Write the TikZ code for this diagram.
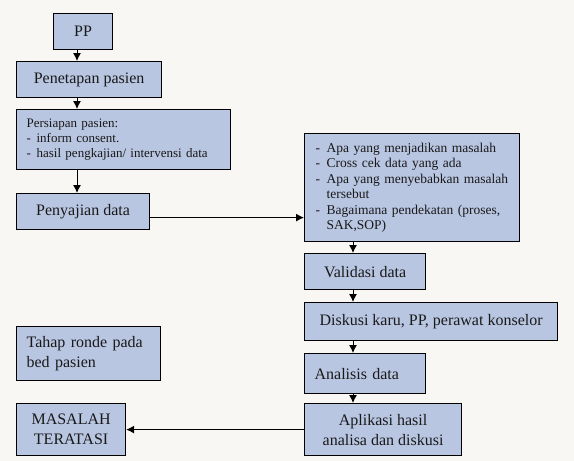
\documentclass[tikz,border=0pt]{standalone}
\usepackage{fontspec}
\setmainfont{Liberation Serif}
\usetikzlibrary{arrows.meta,positioning,calc}
\definecolor{boxblue}{RGB}{185,198,226}
\definecolor{paper}{RGB}{248,247,244}
\tikzstyle{block}=[draw=black, line width=1.2pt, fill=boxblue, anchor=north west, inner sep=0pt, text=black!90, font=\fontsize{16}{20}\selectfont]
\tikzstyle{small}=[font=\fontsize{13.5}{15.5}\selectfont]
\tikzstyle{arrow}=[line width=1pt,-{Latex[length=8pt,width=8pt]}]
\tikzset{sz/.style 2 args={minimum width=#1pt, minimum height=#2pt}}
\newcommand{\dash}[1][10pt]{\makebox[#1][l]{-}}

\begin{document}
\begin{tikzpicture}[x=1pt,y=-1pt]
\fill[paper] (0,0) rectangle (574,461);
\useasboundingbox (0,0) rectangle (574,461);
% left column
\node (pp) [block, sz={59}{36}] at (53,13) {PP};
\node (pen) [block, sz={145}{36}] at (16,61) {Penetapan pasien};
\node (pers) [block, small, inner xsep=10pt, text width=194pt, minimum height=60pt, align=left, font=\fontsize{13}{15}\selectfont] at (16,109) {Persiapan pasien:\\\dash inform consent.\\\dash hasil pengkajian/ intervensi data};
\node (saj) [block, sz={133}{36}] at (16,193) {Penyajian data};
\node (thp) [block, inner xsep=10pt, text width=124pt, minimum height=54pt, align=left] at (16,326) {Tahap ronde pada\\bed pasien};
\node (mas) [block, sz={109}{52}, align=center] at (16,403) {MASALAH\\TERATASI};
% right column
\node (tny) [block, small, inner xsep=11pt, text width=193pt, minimum height=108pt, align=left] at (304,133) {\dash[11pt]Apa yang menjadikan masalah\\\dash[11pt]Cross cek data yang ada\\\dash[11pt]Apa yang menyebabkan masalah\\\hspace*{11pt}tersebut\\\dash[11pt]Bagaimana pendekatan (proses,\\\hspace*{11pt}SAK,SOP)};
\node (val) [block, sz={121}{36}] at (304,253) {Validasi data};
\node (dis) [block, sz={253}{38}] at (304,302) {Diskusi karu, PP, perawat konselor};
\node (ana) [block, inner xsep=10pt, text width=101pt, minimum height=40pt, align=left] at (304,353) {Analisis data};
\node (apl) [block, sz={157}{52}, align=center] at (304,403) {Aplikasi hasil\\analisa dan diskusi};
\coordinate (lx) at (77,0);
\coordinate (rx) at (353,0);
\draw[arrow] (pp.south -| lx) -- (pen.north -| lx);
\draw[arrow] (pen.south -| lx) -- (pers.north -| lx);
\draw[arrow] (pers.south -| lx) -- (saj.north -| lx);
\draw[arrow] ([yshift=-6pt]saj.east) -- ([yshift=-6pt]saj.east -| tny.west);
\draw[arrow] (tny.south -| rx) -- (val.north -| rx);
\draw[arrow] (val.south -| rx) -- (dis.north -| rx);
\draw[arrow] (dis.south -| rx) -- (ana.north -| rx);
\draw[arrow] (ana.south -| rx) -- (apl.north -| rx);
\draw[arrow] (apl.west) -- (mas.east);
\end{tikzpicture}
\end{document}
